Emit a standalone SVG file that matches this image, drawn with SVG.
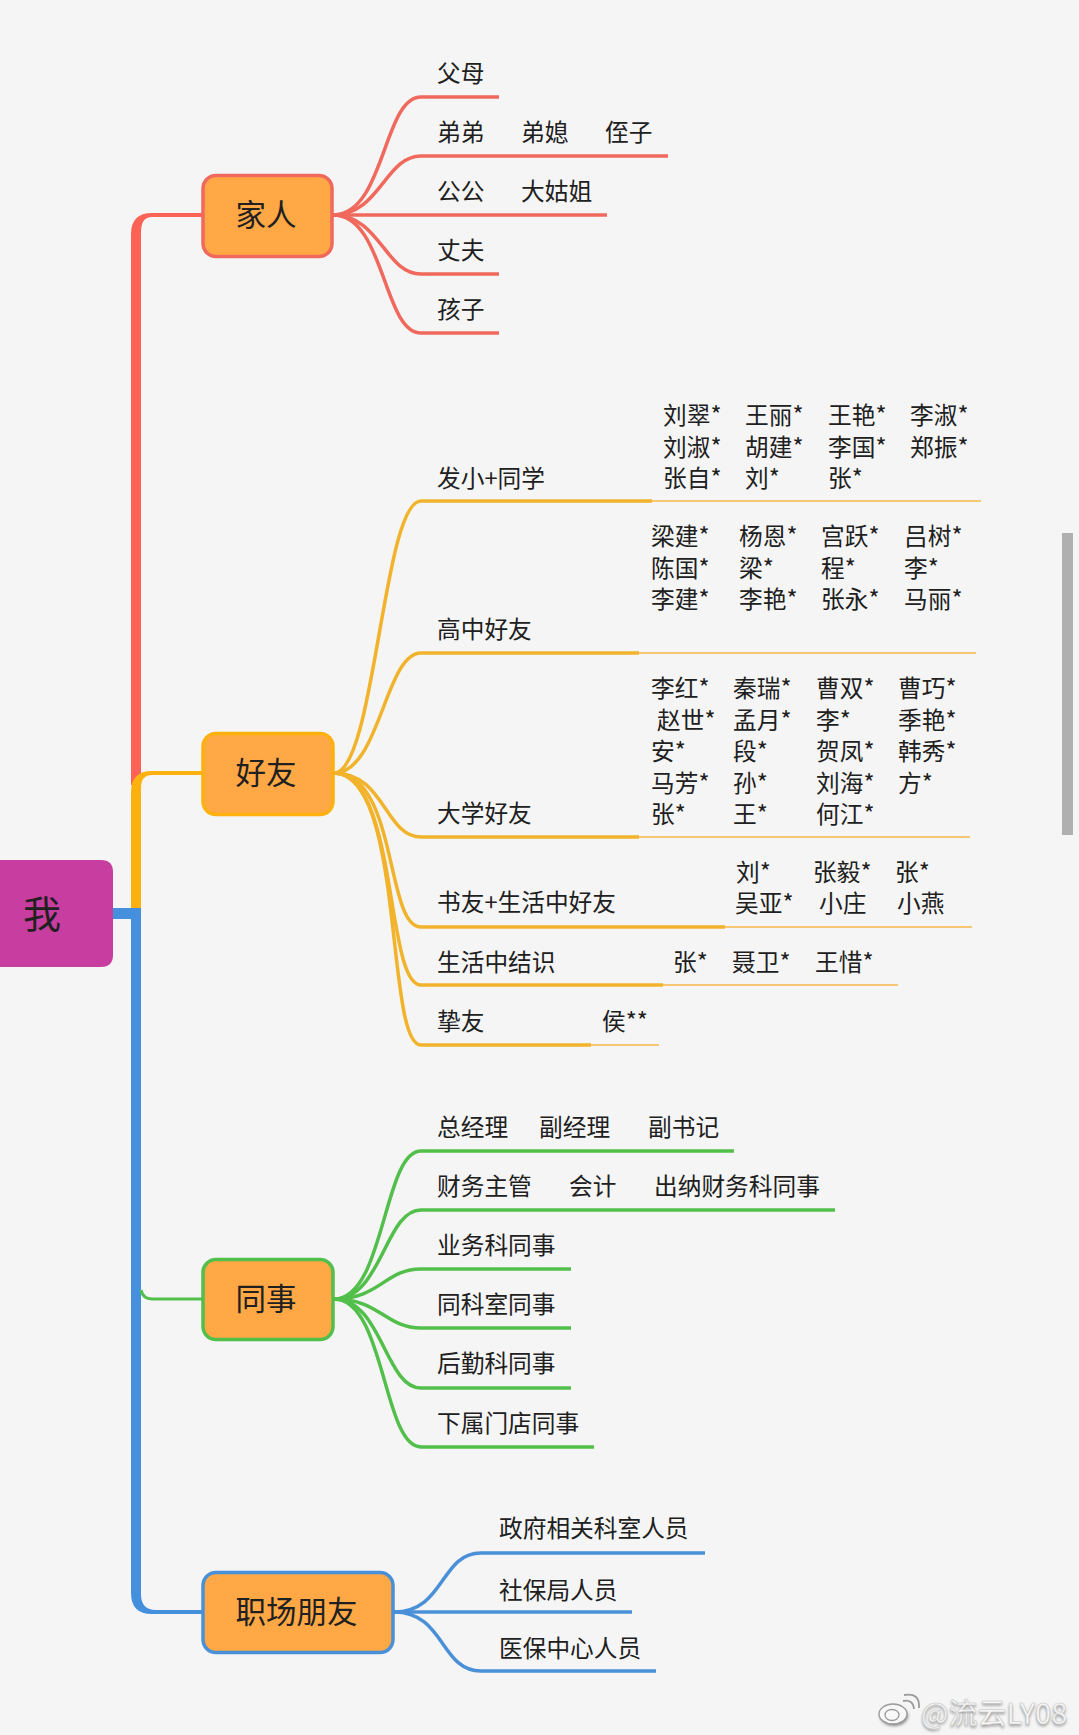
<svg xmlns="http://www.w3.org/2000/svg" width="1079" height="1735" viewBox="0 0 1079 1735">
<style>
text{font-family:"Noto Sans CJK SC","Noto Sans",sans-serif;fill:#202020;font-size:23.7px;dominant-baseline:central}
.t{font-size:30.500px}
.box{fill:#ffa845;stroke-width:3.5}
.c{fill:none;stroke-width:3.5;stroke-linecap:butt}
.r{stroke:#f0695c}.y{stroke:#f2b32c}.g{stroke:#52bf4b}.b{stroke:#4a90d9}
.thin{fill:none;stroke:#f6c873;stroke-width:2.2}
</style>
<defs><filter id="soft" x="-10%" y="-30%" width="120%" height="170%"><feGaussianBlur stdDeviation="1.6"/></filter></defs>
<rect width="1079" height="1735" fill="#f5f5f5"/>
<rect x="1062" y="533" width="11" height="302" fill="#b0b0b0"/>
<g id="connectors">
<path d="M131 785V234Q131 213 152 213H202V217H152Q141 217 141 232V785Z" fill="#fc6356"/>
<path d="M131 912V792Q131 771 152 771H202V775H152Q141 775 141 788V912Z" fill="#fdb10f"/>
<path d="M113 908H141V1594Q141 1610 156 1610H202V1614H152Q131 1614 131 1593V919H113Z" fill="#4590dd"/>
<path d="M141 1290Q143 1299 152 1299H202" fill="none" stroke="#52bf4b" stroke-width="3.2"/>
<g class="c r">
<path d="M333 215C385 215 383 97 421 97H499"/>
<path d="M333 215C380 215 385 156 421 156H668"/>
<path d="M333 215H607"/>
<path d="M333 215C380 215 385 274 421 274H499"/>
<path d="M333 215C385 215 383 333 421 333H499"/>
</g>
<g class="c y">
<path d="M334 773C375 773 383 501 421 501H652"/>
<path d="M334 773C380 773 385 653 421 653H639"/>
<path d="M334 773C385 773 385 837 421 837H639"/>
<path d="M334 773C398 773 385 927 421 927H725"/>
<path d="M334 773C398 773 385 985 421 985H663"/>
<path d="M334 773C405 773 385 1045 421 1045H591"/>
</g>
<path class="thin" d="M652 501H981M639 653H976M639 837H970M725 927H972M663 985H898M591 1045H659"/>
<g class="c g">
<path d="M334 1299C385 1299 383 1151 421 1151H734"/>
<path d="M334 1299C382 1299 385 1210 421 1210H835"/>
<path d="M334 1299C380 1299 385 1269 421 1269H571"/>
<path d="M334 1299C380 1299 385 1328 421 1328H571"/>
<path d="M334 1299C382 1299 385 1388 421 1388H571"/>
<path d="M334 1299C385 1299 383 1447 421 1447H594"/>
</g>
<g class="c b">
<path d="M394 1612C445 1612 440 1553 481 1553H705"/>
<path d="M394 1612H632"/>
<path d="M394 1612C445 1612 440 1671 481 1671H656"/>
</g>
</g>
<g id="root"><path d="M0 860H101Q113 860 113 872V955Q113 967 101 967H0Z" fill="#c83da0"/><text x="23" y="911" style="font-size:38px">我</text></g>
<g id="n-family"><rect class="box" x="203" y="175.500" width="129" height="81" rx="13" stroke="#f0695c"/><text class="t" x="235.500" y="213">家人</text></g>
<g id="n-friends"><rect class="box" x="203" y="733.500" width="130" height="81" rx="13" stroke="#fdb10f"/><text class="t" x="235.500" y="771">好友</text></g>
<g id="n-colleagues"><rect class="box" x="203" y="1259.500" width="130" height="80" rx="13" stroke="#52bf4b"/><text class="t" x="235.500" y="1297">同事</text></g>
<g id="n-work"><rect class="box" x="203" y="1572.500" width="190" height="80" rx="13" stroke="#4a90d9"/><text class="t" x="235.500" y="1610">职场朋友</text></g>
<g id="family-leaves" transform="translate(-1 -1)">
<text x="438" y="73">父母</text>
<text x="438" y="132">弟弟</text><text x="522" y="132">弟媳</text><text x="606" y="132">侄子</text>
<text x="438" y="191">公公</text><text x="522" y="191">大姑姐</text>
<text x="438" y="250">丈夫</text>
<text x="438" y="309">孩子</text>
</g>
<g id="friends-leaves" transform="translate(-1 -1)">
<text x="438" y="478">发小+同学</text>
<text x="664" y="415">刘翠*</text><text x="746" y="415">王丽*</text><text x="829" y="415">王艳*</text><text x="911" y="415">李淑*</text>
<text x="664" y="447">刘淑*</text><text x="746" y="447">胡建*</text><text x="829" y="447">李国*</text><text x="911" y="447">郑振*</text>
<text x="664" y="478">张自*</text><text x="746" y="478">刘*</text><text x="829" y="478">张*</text>
<text x="438" y="629">高中好友</text>
<text x="652" y="536">梁建*</text><text x="740" y="536">杨恩*</text><text x="822" y="536">宫跃*</text><text x="905" y="536">吕树*</text>
<text x="652" y="568">陈国*</text><text x="740" y="568">梁*</text><text x="822" y="568">程*</text><text x="905" y="568">李*</text>
<text x="652" y="599">李建*</text><text x="740" y="599">李艳*</text><text x="822" y="599">张永*</text><text x="905" y="599">马丽*</text>
<text x="438" y="813">大学好友</text>
<text x="652" y="688">李红*</text><text x="734" y="688">秦瑞*</text><text x="817" y="688">曹双*</text><text x="899" y="688">曹巧*</text>
<text x="658" y="720">赵世*</text><text x="734" y="720">孟月*</text><text x="817" y="720">李*</text><text x="899" y="720">季艳*</text>
<text x="652" y="751">安*</text><text x="734" y="751">段*</text><text x="817" y="751">贺凤*</text><text x="899" y="751">韩秀*</text>
<text x="652" y="783">马芳*</text><text x="734" y="783">孙*</text><text x="817" y="783">刘海*</text><text x="899" y="783">方*</text>
<text x="652" y="814">张*</text><text x="734" y="814">王*</text><text x="817" y="814">何江*</text>
<text x="438" y="902">书友+生活中好友</text>
<text x="737" y="872">刘*</text><text x="814" y="872">张毅*</text><text x="896" y="872">张*</text>
<text x="736" y="903">吴亚*</text><text x="820" y="903">小庄</text><text x="898" y="903">小燕</text>
<text x="438" y="962">生活中结识</text>
<text x="674" y="962">张*</text><text x="733" y="962">聂卫*</text><text x="816" y="962">王惜*</text>
<text x="438" y="1021">挚友</text><text x="603" y="1021">侯**</text>
</g>
<g id="colleagues-leaves" transform="translate(-1 -1)">
<text x="438" y="1127">总经理</text><text x="540" y="1127">副经理</text><text x="649" y="1127">副书记</text>
<text x="438" y="1186">财务主管</text><text x="570" y="1186">会计</text><text x="655" y="1186">出纳财务科同事</text>
<text x="438" y="1245">业务科同事</text>
<text x="438" y="1304">同科室同事</text>
<text x="438" y="1363">后勤科同事</text>
<text x="438" y="1423">下属门店同事</text>
</g>
<g id="work-leaves" transform="translate(-1 -1.500)">
<text x="500" y="1528">政府相关科室人员</text>
<text x="500" y="1590">社保局人员</text>
<text x="500" y="1648">医保中心人员</text>
</g>
<g id="watermark">
<text x="921" y="1713" filter="url(#soft)" style="font-size:29px;fill:#8a8a8a">@流云LY08</text>
<text x="921" y="1711" style="font-size:29px;fill:#f6f6f6;stroke:#c4c4c4;stroke-width:.5">@流云LY08</text>
<ellipse cx="894" cy="1716" rx="14" ry="10" fill="#8a8a8a" filter="url(#soft)"/>
<g fill="#f8f8f8" stroke="#9a9a9a" stroke-width="1.3"><ellipse cx="893" cy="1714" rx="14" ry="10"/><ellipse cx="892" cy="1715" rx="7" ry="5.5" fill="none"/><path d="M903 1701Q913 1699 914 1709M904 1695Q920 1692 919 1708" fill="none" stroke-width="1.8"/></g>
</g>
</svg>
